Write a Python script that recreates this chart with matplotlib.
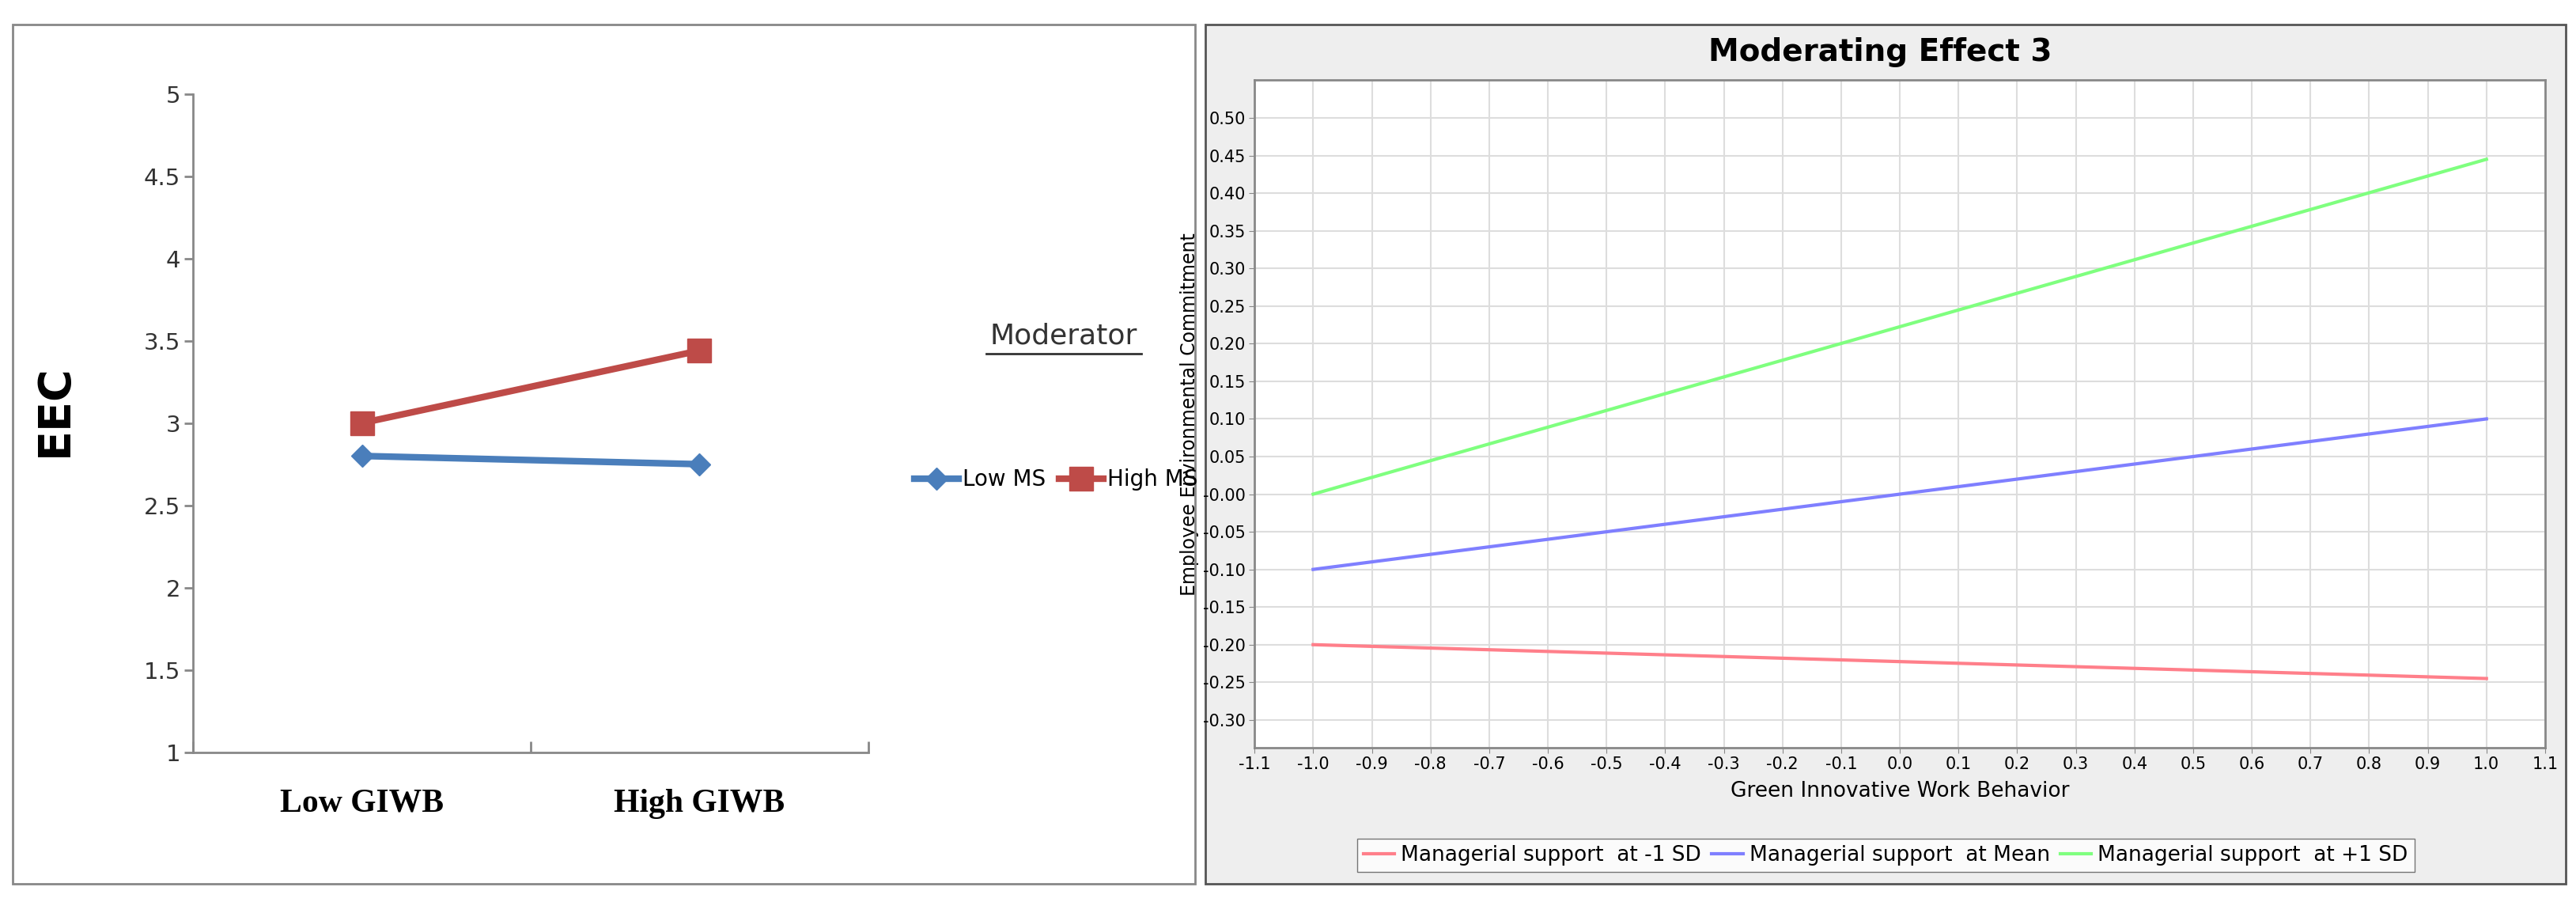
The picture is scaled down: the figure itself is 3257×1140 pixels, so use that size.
import matplotlib
matplotlib.use("Agg")
import matplotlib.pyplot as plt
from matplotlib.patches import Rectangle
import numpy as np

# Left panel data
categories = ["Low GIWB", "High GIWB"]
low_ms = [2.80, 2.75]
high_ms = [3.00, 3.44]

# Right panel data
giwb_x = [-1.0, 1.0]
ms_minus = [-0.20, -0.245]
ms_mean = [-0.10, 0.10]
ms_plus = [0.00, 0.445]

fig = plt.figure(figsize=(32.57, 11.40), dpi=100)
fig.patch.set_facecolor("white")

# frames
fig.patches.append(Rectangle((0.005, 0.02), 0.459, 0.953, transform=fig.transFigure,
                             fill=False, edgecolor="#888888", lw=2))
fig.patches.append(Rectangle((0.468, 0.02), 0.528, 0.953, transform=fig.transFigure,
                             facecolor="#eeeeee", edgecolor="#555555", lw=2, zorder=-1))

# Left axes
ax = fig.add_axes([0.075, 0.166, 0.262, 0.730])
xp = [0.5, 1.5]
ax.plot(xp, low_ms, color="#4a7ebb", lw=6, marker="D", ms=14, label="Low MS")
ax.plot(xp, high_ms, color="#be4b48", lw=6, marker="s", ms=22, label="High MS")
ax.set_xlim(0, 2)
ax.set_ylim(1, 5)
ax.set_yticks(np.arange(1, 5.01, 0.5))
ax.set_yticklabels(["1", "1.5", "2", "2.5", "3", "3.5", "4", "4.5", "5"])
ax.set_xticks([0, 1, 2])
ax.set_xticklabels([])
ax.tick_params(axis="x", direction="in", length=10, width=2, color="#888888")
ax.tick_params(axis="y", direction="out", length=8, width=2, color="#888888", labelsize=21, labelcolor="#333333")
for i, c in enumerate(categories):
    ax.text(xp[i], -0.055, c, transform=ax.get_xaxis_transform(), ha="center", va="top",
            fontsize=30, fontweight="bold", family="Liberation Serif")
for s in ["top", "right"]:
    ax.spines[s].set_visible(False)
for s in ["left", "bottom"]:
    ax.spines[s].set_color("#888888")
    ax.spines[s].set_linewidth(2)
fig.text(0.021, 0.545, "EEC", rotation=90, ha="center", va="center", fontsize=40, fontweight="bold")
fig.text(0.413, 0.628, "Moderator", ha="center", va="center", fontsize=26, color="#333333")
fig.add_artist(plt.Line2D([0.383, 0.443], [0.608, 0.608], color="#333333", lw=2))
fig.legend(*ax.get_legend_handles_labels(), loc="center", bbox_to_anchor=(0.410, 0.468), ncol=2,
           frameon=False, fontsize=20, handlelength=2.0, columnspacing=0.6, handletextpad=0.2)

# Right axes
ax2 = fig.add_axes([0.487, 0.171, 0.501, 0.740])
ax2.set_facecolor("white")
ax2.plot(giwb_x, ms_minus, color="#ff7f8a", lw=3, label="Managerial support  at -1 SD")
ax2.plot(giwb_x, ms_mean, color="#7f7fff", lw=3, label="Managerial support  at Mean")
ax2.plot(giwb_x, ms_plus, color="#7fff7f", lw=3, label="Managerial support  at +1 SD")
ax2.set_xlim(-1.1, 1.1)
ax2.set_ylim(-0.337, 0.55)
xt = np.round(np.arange(-1.1, 1.1001, 0.1), 1)
ax2.set_xticks(xt)
ax2.set_xticklabels([f"{v:.1f}" for v in xt])
yt = np.round(np.arange(-0.30, 0.5001, 0.05), 2)
ax2.set_yticks(yt)
ax2.set_yticklabels([f"{v:.2f}" for v in yt])
ax2.grid(True, color="#dddddd", lw=1.5)
ax2.tick_params(labelsize=15, color="#888888", length=5, pad=3)
for s in ax2.spines.values():
    s.set_color("#888888"); s.set_linewidth(2)
ax2.set_xlabel("Green Innovative Work Behavior", fontsize=19, labelpad=8)
ax2.set_ylabel("Employee Environmental Commitment", fontsize=17, labelpad=4)
fig.text(0.730, 0.942, "Moderating Effect 3", ha="center", va="center", fontsize=28, fontweight="bold")
fig.legend(*ax2.get_legend_handles_labels(), loc="lower center", bbox_to_anchor=(0.732, 0.022), ncol=3,
           frameon=True, fancybox=False, edgecolor="#555555", fontsize=19, handlelength=1.5,
           columnspacing=0.5, handletextpad=0.3, borderpad=0.3)

fig.savefig("out.png", dpi=100)
